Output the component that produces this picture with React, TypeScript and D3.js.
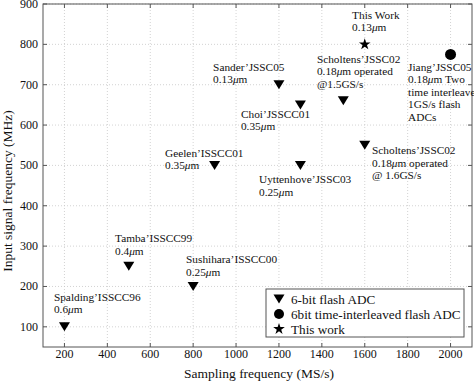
import React from "react";
import * as d3 from "d3";

const W = 474, H = 382;
const M = { left: 43, right: 472, top: 4, bottom: 347 };

const xTicks = [200, 400, 600, 800, 1000, 1200, 1400, 1600, 1800, 2000];
const yTicks = [100, 200, 300, 400, 500, 600, 700, 800, 900];

// 6-bit flash ADC points
const flashX = [200, 500, 800, 900, 1200, 1300, 1300, 1500, 1600];
const flashY = [100, 250, 200, 500, 700, 650, 500, 660, 550];

// 6-bit time-interleaved flash ADC
const tiX = [2000];
const tiY = [775];

// This work
const workX = [1600];
const workY = [800];

const labelLines: string[][] = [
  ["Spalding’ISSCC96", "0.6μm"],
  ["Tamba’ISSCC99", "0.4μm"],
  ["Sushihara’ISSCC00", "0.25μm"],
  ["Geelen’ISSCC01", "0.35μm"],
  ["Sander’JSSC05", "0.13μm"],
  ["Choi’JSSCC01", "0.35μm"],
  ["Uyttenhove’JSSC03", "0.25μm"],
  ["Scholtens’JSSC02", "0.18μm operated", "@1.5GS/s"],
  ["Scholtens’JSSC02", "0.18μm operated", "@ 1.6GS/s"],
  ["Jiang’JSSC05", "0.18μm Two", "time interleaved", "1GS/s flash", "ADCs"],
  ["This Work", "0.13μm"],
];
// label anchor positions in data units (left x, first baseline y)
const labelX = [151, 436, 767, 669, 893, 1023, 1107, 1377, 1634, 1802, 1541];
const labelY = [164, 310, 258, 521, 734, 618, 456, 754, 528, 734, 863];

const legendItems = ["6-bit flash ADC", "6bit time-interleaved flash ADC", "This work"];

const FONT = "'Liberation Serif', 'Times New Roman', serif";

function mu(s: string) {
  const i = s.indexOf("μ");
  if (i < 0) return s;
  return (
    <>
      {s.slice(0, i)}
      <tspan fontStyle="italic">μ</tspan>
      {s.slice(i + 1)}
    </>
  );
}

export default function App() {
  const x = d3.scaleLinear().domain([100, 2100]).range([M.left, M.right]);
  const y = d3.scaleLinear().domain([50, 900]).range([M.bottom, M.top]);
  const tri = (cx: number, cy: number) =>
    `M${cx - 5.5},${cy - 4.5}L${cx + 5.5},${cy - 4.5}L${cx},${cy + 4.5}Z`;
  const star = d3.symbol().type(d3.symbolStar).size(42);
  const axisColor = "#555";

  return (
    <svg width={W} height={H} style={{ position: "absolute", left: 0, top: 0, background: "#fff" }} fontFamily={FONT}>
      <rect x={0} y={0} width={W} height={H} fill="#fff" />
      {xTicks.map((t) => (
        <line key={"gx" + t} x1={x(t)} x2={x(t)} y1={M.top} y2={M.bottom} stroke="#c8c8c8" strokeWidth={0.8} strokeDasharray="1,2" />
      ))}
      {yTicks.map((t) => (
        <line key={"gy" + t} x1={M.left} x2={M.right} y1={y(t)} y2={y(t)} stroke="#c8c8c8" strokeWidth={0.8} strokeDasharray="1,2" />
      ))}
      <rect x={M.left} y={M.top} width={M.right - M.left} height={M.bottom - M.top} fill="none" stroke={axisColor} strokeWidth={1} />
      {xTicks.map((t) => (
        <g key={"tx" + t}>
          <line x1={x(t)} x2={x(t)} y1={M.bottom} y2={M.bottom - 4} stroke={axisColor} />
          <line x1={x(t)} x2={x(t)} y1={M.top} y2={M.top + 4} stroke={axisColor} />
          <text x={x(t)} y={358} textAnchor="middle" fontSize={12} fill="#111">{t}</text>
        </g>
      ))}
      {yTicks.map((t) => (
        <g key={"ty" + t}>
          <line x1={M.left} x2={M.left + 4} y1={y(t)} y2={y(t)} stroke={axisColor} />
          <line x1={M.right} x2={M.right - 4} y1={y(t)} y2={y(t)} stroke={axisColor} />
          <text x={38} y={y(t) + 4} textAnchor="end" fontSize={12} fill="#111">{t}</text>
        </g>
      ))}
      <text x={259} y={378} textAnchor="middle" fontSize={13.5} fill="#111">Sampling frequency (MS/s)</text>
      <text transform={`translate(12,191) rotate(-90)`} textAnchor="middle" fontSize={13.5} fill="#111">Input signal frequency (MHz)</text>
      {labelLines.map((lines, i) => (
        <text key={"lab" + i} x={x(labelX[i])} y={y(labelY[i])} fontSize={11.3} fill="#111">
          {lines.map((l, j) => (
            <tspan key={j} x={x(labelX[i])} dy={j === 0 ? 0 : 12.5}>{mu(l)}</tspan>
          ))}
        </text>
      ))}
      {flashX.map((v, i) => (
        <path key={"f" + i} d={tri(x(v), y(flashY[i]))} fill="#000" />
      ))}
      {tiX.map((v, i) => (
        <circle key={"c" + i} cx={x(v)} cy={y(tiY[i])} r={5.5} fill="#000" />
      ))}
      {workX.map((v, i) => (
        <path key={"s" + i} d={star()!} transform={`translate(${x(v)},${y(workY[i])})`} fill="#000" />
      ))}
      <rect x={266} y={289} width={198} height={48} fill="#fff" stroke={axisColor} strokeWidth={1} />
      {legendItems.map((l, i) => {
        const cy = 299 + i * 15;
        return (
          <g key={"lg" + i}>
            {i === 0 && <path d={tri(279, cy)} fill="#000" />}
            {i === 1 && <circle cx={279} cy={cy} r={5} fill="#000" />}
            {i === 2 && <path d={star()!} transform={`translate(279,${cy})`} fill="#000" />}
            <text x={291} y={cy + 4.5} fontSize={13.2} fill="#111">{l}</text>
          </g>
        );
      })}
    </svg>
  );
}
